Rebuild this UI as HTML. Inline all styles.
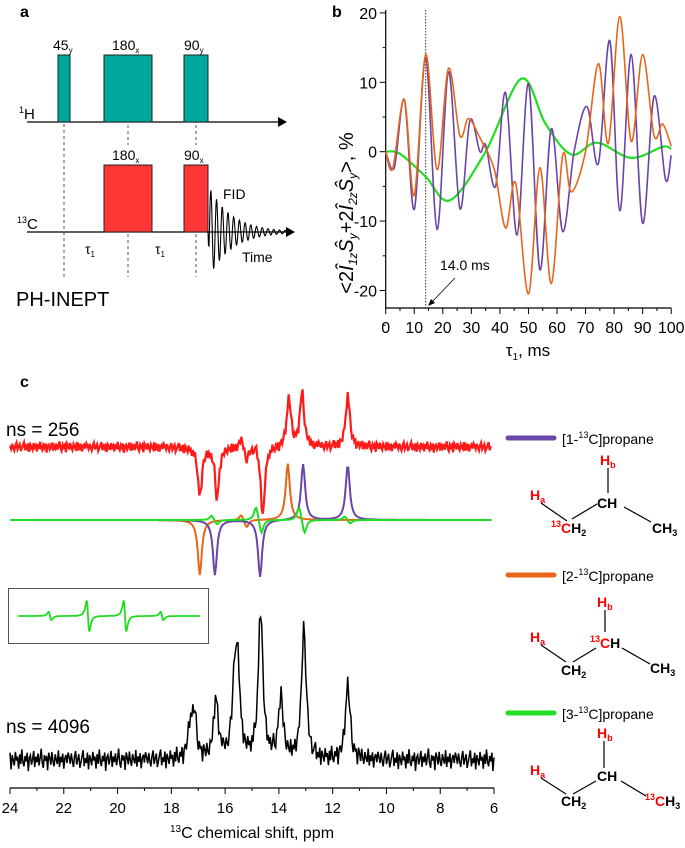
<!DOCTYPE html>
<html><head><meta charset="utf-8">
<style>
html,body{margin:0;padding:0;background:#fff;}
svg{display:block;font-family:"Liberation Sans",Arial,sans-serif;}
.b{font-weight:bold}
</style></head>
<body>
<svg id="fig" width="685" height="848" viewBox="0 0 685 848" xmlns="http://www.w3.org/2000/svg">
<!-- Panel a -->
<g>
<text x="20" y="17" font-size="16" class="b">a</text>
<line x1="27" y1="122" x2="280" y2="122" stroke="#000" stroke-width="1.3"/>
<polygon points="278,117 287,122 278,127" fill="#000"/>
<text x="19" y="119" font-size="15"><tspan font-size="9" dy="-6">1</tspan><tspan dy="6">H</tspan></text>
<rect x="58" y="55" width="12" height="67" fill="#00a89c" stroke="#222" stroke-width="1"/>
<rect x="104" y="55" width="48" height="67" fill="#00a89c" stroke="#222" stroke-width="1"/>
<rect x="184" y="55" width="24" height="67" fill="#00a89c" stroke="#222" stroke-width="1"/>
<text x="53" y="50" font-size="14">45<tspan font-size="8" dy="3">y</tspan></text>
<text x="112" y="50" font-size="14">180<tspan font-size="8" dy="3">x</tspan></text>
<text x="184" y="50" font-size="14">90<tspan font-size="8" dy="3">y</tspan></text>
<line x1="27" y1="232" x2="288" y2="232" stroke="#000" stroke-width="1.3"/>
<polygon points="286,227 295,232 286,237" fill="#000"/>
<text x="17" y="229" font-size="15"><tspan font-size="9" dy="-6">13</tspan><tspan dy="6">C</tspan></text>
<rect x="104" y="165" width="48" height="67" fill="#ff3636" stroke="#222" stroke-width="1"/>
<rect x="184" y="165" width="24" height="67" fill="#ff3636" stroke="#222" stroke-width="1"/>
<text x="112" y="160" font-size="14">180<tspan font-size="8" dy="3">x</tspan></text>
<text x="184" y="160" font-size="14">90<tspan font-size="8" dy="3">x</tspan></text>
<g stroke="#555" stroke-width="1" stroke-dasharray="3,3">
<line x1="64" y1="124" x2="64" y2="277"/>
<line x1="128" y1="125" x2="128" y2="145"/>
<line x1="128" y1="234" x2="128" y2="277"/>
<line x1="196" y1="125" x2="196" y2="145"/>
<line x1="196" y1="234" x2="196" y2="277"/>
</g>
<text x="85" y="254" font-size="14">τ<tspan font-size="8" dy="3">1</tspan></text>
<text x="155" y="254" font-size="14">τ<tspan font-size="8" dy="3">1</tspan></text>
<path id="fid" fill="none" stroke="#000" stroke-width="1.1"/>
<text x="223" y="199" font-size="14">FID</text>
<text x="242" y="262" font-size="14">Time</text>
<text x="16" y="306" font-size="20">PH-INEPT</text>
</g>

<!-- Panel b -->
<g>
<text x="332" y="17" font-size="16" class="b">b</text>
<g id="bAxes"></g>
<line id="dotLine" stroke="#333" stroke-width="1" stroke-dasharray="1.5,1.5"/>
<path id="bGreen" fill="none" stroke="#22dd22" stroke-width="2.2"/>
<path id="bPurple" fill="none" stroke="#6a45a8" stroke-width="1.6"/>
<path id="bOrange" fill="none" stroke="#e8661a" stroke-width="1.6"/>
<text x="440" y="270" font-size="14">14.0 ms</text>
<line x1="455" y1="278" x2="430" y2="304" stroke="#000" stroke-width="0.8"/>
<polygon points="428,306 431,299 435,303" fill="#000"/>
<text transform="translate(353,213) rotate(-90)" text-anchor="middle" font-size="20">&lt;2<tspan font-style="italic">Î</tspan><tspan font-size="12" dy="4" font-style="italic">1z</tspan><tspan dy="-4" font-style="italic">Ŝ</tspan><tspan font-size="12" dy="4" font-style="italic">y</tspan><tspan dy="-4">+2</tspan><tspan font-style="italic">Î</tspan><tspan font-size="12" dy="4" font-style="italic">2z</tspan><tspan dy="-4" font-style="italic">Ŝ</tspan><tspan font-size="12" dy="4" font-style="italic">y</tspan><tspan dy="-4">&gt;, %</tspan></text>
<text x="528" y="356" text-anchor="middle" font-size="17">τ<tspan font-size="10" dy="4">1</tspan><tspan dy="-4">, ms</tspan></text>
</g>

<!-- Panel c -->
<g>
<text x="20" y="387" font-size="16" class="b">c</text>
<text x="6" y="436" font-size="19">ns = 256</text>
<text x="6" y="733" font-size="19">ns = 4096</text>
<path id="cRed" fill="none" stroke="#ff1a1a" stroke-width="2.2"/>
<path id="cOrange" fill="none" stroke="#e8661a" stroke-width="2"/>
<path id="cPurple" fill="none" stroke="#6a45a8" stroke-width="2"/>
<path id="cGreen" fill="none" stroke="#22dd22" stroke-width="2"/>
<rect x="8.5" y="588.5" width="200" height="55" fill="#fff" stroke="#555" stroke-width="1"/>
<path id="cInset" fill="none" stroke="#22dd22" stroke-width="1.8"/>
<path id="cBlack" fill="none" stroke="#000" stroke-width="1.5"/>
<g id="cAxis"></g>
<text x="252" y="838" text-anchor="middle" font-size="16"><tspan font-size="10" dy="-6">13</tspan><tspan dy="6">C chemical shift, ppm</tspan></text>
</g>

<!-- Legends & molecules -->
<g font-size="14">
<line x1="508" y1="438" x2="554" y2="438" stroke="#6a45a8" stroke-width="5" stroke-linecap="round"/>
<text x="562" y="444">[1-<tspan font-size="9" dy="-6">13</tspan><tspan dy="6">C]propane</tspan></text>
<line x1="508" y1="575" x2="554" y2="575" stroke="#e8661a" stroke-width="5" stroke-linecap="round"/>
<text x="562" y="581">[2-<tspan font-size="9" dy="-6">13</tspan><tspan dy="6">C]propane</tspan></text>
<line x1="508" y1="713" x2="554" y2="713" stroke="#22dd22" stroke-width="5" stroke-linecap="round"/>
<text x="562" y="719">[3-<tspan font-size="9" dy="-6">13</tspan><tspan dy="6">C]propane</tspan></text>
</g>
<g font-size="14" class="b" stroke-width="1.2">
<text x="600" y="465" fill="#f00">H<tspan font-size="9" dy="3">b</tspan></text>
<line x1="608" y1="468" x2="608" y2="493" stroke="#000"/>
<text x="597" y="508">CH</text>
<text x="530" y="500" fill="#f00">H<tspan font-size="9" dy="3">a</tspan></text>
<line x1="541" y1="503" x2="567" y2="521" stroke="#000"/>
<line x1="572" y1="519" x2="597" y2="504" stroke="#000"/>
<line x1="624" y1="507" x2="651" y2="522" stroke="#000"/>
<text x="551" y="533"><tspan fill="#f00" font-size="9" dy="-6">13</tspan><tspan fill="#f00" dy="6">C</tspan>H<tspan font-size="9" dy="3">2</tspan></text>
<text x="652" y="533">CH<tspan font-size="9" dy="3">3</tspan></text>
</g>
<g font-size="14" class="b" stroke-width="1.2">
<text x="597" y="607" fill="#f00">H<tspan font-size="9" dy="3">b</tspan></text>
<line x1="605" y1="610" x2="605" y2="632" stroke="#000"/>
<text x="590" y="648"><tspan fill="#f00" font-size="9" dy="-6">13</tspan><tspan fill="#f00" dy="6">C</tspan>H</text>
<text x="530" y="642" fill="#f00">H<tspan font-size="9" dy="3">a</tspan></text>
<line x1="541" y1="645" x2="566" y2="662" stroke="#000"/>
<line x1="573" y1="662" x2="596" y2="648" stroke="#000"/>
<line x1="622" y1="648" x2="650" y2="664" stroke="#000"/>
<text x="561" y="675">CH<tspan font-size="9" dy="3">2</tspan></text>
<text x="650" y="673">CH<tspan font-size="9" dy="3">3</tspan></text>
</g>
<g font-size="14" class="b" stroke-width="1.2">
<text x="597" y="738" fill="#f00">H<tspan font-size="9" dy="3">b</tspan></text>
<line x1="604" y1="741" x2="604" y2="768" stroke="#000"/>
<text x="597" y="781">CH</text>
<text x="530" y="775" fill="#f00">H<tspan font-size="9" dy="3">a</tspan></text>
<line x1="541" y1="778" x2="566" y2="794" stroke="#000"/>
<line x1="573" y1="794" x2="596" y2="781" stroke="#000"/>
<line x1="621" y1="781" x2="646" y2="796" stroke="#000"/>
<text x="645" y="806"><tspan fill="#f00" font-size="9" dy="-6">13</tspan><tspan fill="#f00" dy="6">C</tspan>H<tspan font-size="9" dy="3">3</tspan></text>
<text x="561" y="806">CH<tspan font-size="9" dy="3">2</tspan></text>
</g>
</svg>
<script>
// ---------- Panel b data ----------
const purpleT = [0,3,6.5,10,14,18,22,26,29.5,33,35,38.5,42,46,50,54,58,62,66,70.5,74.5,78.5,82,86,90,94,98,100];
const purpleV = [0,-2.3,7.5,-8.3,13.5,-11.2,11.5,-8.2,4.5,0,1,-5,8.5,-12,9.8,-17,3.3,-11.5,0,6.5,-1.7,16,-8.5,14,-10.3,8,-4,-0.5];
const orangeT = [0,2.5,6.5,10,14,18,22,26,29,33,38,42,45.5,50,54,58,62,65,70,74.5,78,82,86,90,94,97,100];
const orangeV = [0,-2.4,7.5,-6.3,14,-2.6,12,2.3,4.8,2,-2.5,-11,-4.5,-20.5,-2.3,-19,-0.5,-5.8,0,12.7,1.2,19.5,1.5,14,2.3,4,0.8];
const greenT = [0,5,14,22.5,35,47.5,56,65,74,86,97,100];
const greenV = [0,-0.3,-3.6,-7,0,10.5,4,-0.4,1.3,-0.9,0.7,0.4];
const bXTicks = [0,10,20,30,40,50,60,70,80,90,100];
const bYTicks = [20,10,0,-10,-20];
const markerT = 14;

const bx = t => 385.7 + t*2.855;
const by = v => 151.7 - v*6.94;

function catmull(T,V){
  const P=T.map((t,i)=>[bx(t),by(V[i])]);
  let d=`M${P[0][0].toFixed(1)},${P[0][1].toFixed(1)}`;
  for(let i=0;i<P.length-1;i++){
    const p0=P[Math.max(0,i-1)],p1=P[i],p2=P[i+1],p3=P[Math.min(P.length-1,i+2)];
    const c1=[p1[0]+(p2[0]-p0[0])/6,p1[1]+(p2[1]-p0[1])/6];
    const c2=[p2[0]-(p3[0]-p1[0])/6,p2[1]-(p3[1]-p1[1])/6];
    d+=`C${c1[0].toFixed(1)},${c1[1].toFixed(1)} ${c2[0].toFixed(1)},${c2[1].toFixed(1)} ${p2[0].toFixed(1)},${p2[1].toFixed(1)}`;
  }
  return d;
}
document.getElementById('bPurple').setAttribute('d',catmull(purpleT,purpleV));
document.getElementById('bOrange').setAttribute('d',catmull(orangeT,orangeV));
document.getElementById('bGreen').setAttribute('d',catmull(greenT,greenV));
const dl=document.getElementById('dotLine');
dl.setAttribute('x1',bx(markerT));dl.setAttribute('x2',bx(markerT));
dl.setAttribute('y1',10);dl.setAttribute('y2',308);

const NS='http://www.w3.org/2000/svg';
function el(tag,attrs,parent,txt){const e=document.createElementNS(NS,tag);for(const k in attrs)e.setAttribute(k,attrs[k]);if(txt!==undefined)e.textContent=txt;parent.appendChild(e);return e;}
const bA=document.getElementById('bAxes');
const ax1=el('line',{x1:bx(0),y1:10,x2:bx(0),y2:308,stroke:'#000','stroke-width':1.2},bA);


const ax2=el('line',{x1:bx(0),y1:308,x2:bx(100),y2:308,stroke:'#000','stroke-width':1.2},bA);


for(let t=0;t<=100;t+=5){
  const big=t%10===0;
  el('line',{x1:bx(t),y1:308,x2:bx(t),y2:308+(big?6:3),stroke:'#000','stroke-width':1},bA);
}
bXTicks.forEach(t=>{
  const tx=el('text',{x:bx(t),y:333,'text-anchor':'middle','font-size':16},bA,String(t));
  
  
});
for(let v=-25;v<=20;v+=5){
  const big=v%10===0;
  el('line',{x1:bx(0)-(big?6:3),y1:by(v),x2:bx(0),y2:by(v),stroke:'#000','stroke-width':1},bA);
}
bYTicks.forEach(v=>{
  const tx=el('text',{x:377,y:by(v)+6,'text-anchor':'end','font-size':16},bA,String(v));
  
  
});

// FID in panel a
(function(){
  let d='';
  for(let i=0;i<=170;i++){
    const x=208+i*0.5;const a=48*Math.exp(-i/45);
    const y=232+a*Math.sin(i*0.55+1.57)*(i<3?i/3:1);
    d+=(i?'L':'M')+x.toFixed(1)+','+y.toFixed(1);
  }
  document.getElementById('fid').setAttribute('d',d);
})();

// ---------- Panel c data ----------
const redPpm = [16.94,16.3,15.4,15.2,14.85,14.6,13.63,13.14,11.44];
const redAmp = [-49,-51,10,-13,5,-70,49,55,52];
const orangePpm = [16.94,15.4,15.2,13.67];
const orangeAmp = [-55,6,-8,57];
const purplePpm = [16.38,14.7,13.1,11.44];
const purpleAmp = [-55,-57,56,55];
const greenPpm = [16.5,16.3,14.85,14.65,13.25,13.05,11.55,11.35];
const greenAmp = [5,-5,15,-15,15,-15,4,-4];
const blackPpm = [17.3,17.15,16.34,15.64,15.52,14.68,13.93,13.07,11.44];
const blackAmp = [28,42,60,78,72,150,62,132,76];
const insetPos = [50,88,125,162];
const insetAmp = [5,18,18,5];
const noise = [3,-5,8,-2,-9,4,11,-6,1,7,-10,-3,5,12,-8,2,-4,9,-12,6,0,-7,10,-1,4,-11,7,-5,13,-3,-8,5,-2,9,-14,3,6,-6,1,11,-9,4,-3,8,-7,2,14,-4,-10,6,-1,5,-13,9,3,-6,10,-2,-8,7,0,-5,12,-9,4,-3,8,-11,2,6,-4,9];
const cXTicks = [24,22,20,18,16,14,12,10,8,6];

const cx = p => 10 + (24-p)*26.89;
function lor(p,pos,amp,w){let s=0;for(let i=0;i<pos.length;i++){const q=(p-pos[i])/w;s+=amp[i]/(1+q*q);}return s;}
function spec(pos,amp,w,base,nAmp,nOff,p0,p1){
  let d='';let k=0;
  for(let p=p0;p>=p1-1e-9;p-=0.04){
    const n=nAmp?noise[(k+nOff)%noise.length]*nAmp:0;
    const y=base-lor(p,pos,amp,w)-n;
    d+=(k?'L':'M')+cx(p).toFixed(1)+','+y.toFixed(1);k++;
  }
  return d;
}
document.getElementById('cRed').setAttribute('d',spec(redPpm,redAmp,0.09,447,0.4,0,24,6.1));
document.getElementById('cOrange').setAttribute('d',spec(orangePpm,orangeAmp,0.09,520,0,0,18.5,6.1));
document.getElementById('cPurple').setAttribute('d',spec(purplePpm,purpleAmp,0.09,520,0,0,18.5,6.1));
document.getElementById('cGreen').setAttribute('d',spec(greenPpm,greenAmp,0.09,520,0,0,24,6.1));
document.getElementById('cBlack').setAttribute('d',spec(blackPpm,blackAmp,0.1,760,0.8,17,24,6));
(function(){
  let d='';
  for(let x=18;x<=200;x+=0.5){
    let s=0;insetPos.forEach((c,i)=>{const q=(x-c)/2.2;s+=insetAmp[i]*(-2*q)/(1+q*q)/(1+q*q)*1.3;});
    d+=(x===18?'M':'L')+x+','+(616-s).toFixed(1);
  }
  document.getElementById('cInset').setAttribute('d',d);
})();
const cA=document.getElementById('cAxis');
const cax=el('line',{x1:cx(24),y1:788,x2:cx(6),y2:788,stroke:'#000','stroke-width':1.2},cA);


for(let p=24;p>=6;p--){const big=p%2===0;el('line',{x1:cx(p),y1:788,x2:cx(p),y2:788+(big?6:3),stroke:'#000','stroke-width':1},cA);}
cXTicks.forEach(p=>{
  const tx=el('text',{x:cx(p),y:813,'text-anchor':'middle','font-size':15},cA,String(p));
  
  
});
</script>
</body></html>
